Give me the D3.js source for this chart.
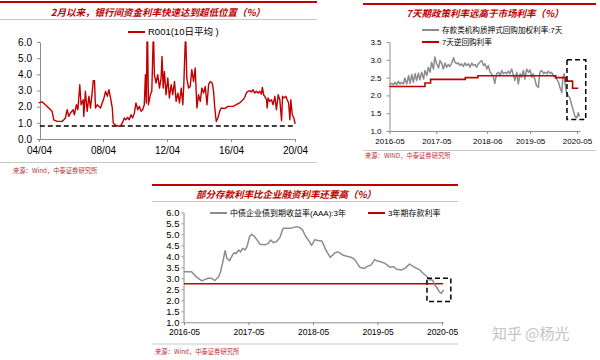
<!DOCTYPE html>
<html>
<head>
<meta charset="utf-8">
<script src="https://cdn.jsdelivr.net/npm/d3@7"></script>
<style>
  body { margin: 0; background: #fff; }
  svg text { font-family: "Liberation Sans", Arial, "Noto Sans CJK SC", sans-serif; }
</style>
</head>
<body>
<div id="chart"></div>
<script>
//Panel 1: R001 10-day average (decimal years)
var r001Years = [
  2004.23, 2004.44, 2004.65, 2004.86, 2005.07, 2005.17, 2005.38, 2005.69, 2005.80, 2005.90,
  2006.01, 2006.11, 2006.21, 2006.38, 2006.46, 2006.59, 2006.68, 2006.80, 2006.88, 2007.01,
  2007.05, 2007.15, 2007.26, 2007.37, 2007.47, 2007.58, 2007.64, 2007.72, 2007.78, 2007.89,
  2008.10, 2008.20, 2008.31, 2008.41, 2008.52, 2008.62, 2008.72, 2008.83, 2008.89, 2009.04,
  2009.25, 2009.35, 2009.46, 2009.58, 2009.68, 2009.79, 2009.89, 2010.00, 2010.10, 2010.21,
  2010.31, 2010.42, 2010.52, 2010.63, 2010.73, 2010.83, 2010.90, 2010.96, 2011.00, 2011.04,
  2011.09, 2011.21, 2011.30, 2011.38, 2011.42, 2011.46, 2011.57, 2011.67, 2011.78, 2011.88,
  2011.94, 2012.01, 2012.09, 2012.19, 2012.30, 2012.40, 2012.51, 2012.61, 2012.72, 2012.82,
  2012.93, 2013.03, 2013.14, 2013.24, 2013.30, 2013.39, 2013.43, 2013.49, 2013.60, 2013.70,
  2013.80, 2013.91, 2014.01, 2014.12, 2014.22, 2014.33, 2014.43, 2014.54, 2014.64, 2014.75,
  2014.85, 2014.95, 2015.08, 2015.16, 2015.22, 2015.29, 2015.33, 2015.43, 2015.54, 2015.64,
  2015.85, 2016.06, 2016.37, 2016.58, 2016.79, 2017.00, 2017.11, 2017.21, 2017.31, 2017.42,
  2017.52, 2017.63, 2017.73, 2017.84, 2017.94, 2018.05, 2018.15, 2018.21, 2018.30, 2018.36,
  2018.47, 2018.51, 2018.57, 2018.67, 2018.78, 2018.88, 2018.99, 2019.09, 2019.20, 2019.30,
  2019.41, 2019.47, 2019.55, 2019.68, 2019.76, 2019.85, 2019.93, 2019.99, 2020.08, 2020.18, 2020.26];
var r001Values = [
  2.23, 2.30, 2.12, 1.92, 1.71, 1.19, 1.09, 1.09, 1.19, 1.30,
  1.81, 1.40, 1.60, 1.81, 1.50, 2.12, 1.81, 3.36, 2.12, 2.43,
  1.40, 2.95, 1.71, 2.64, 1.92, 2.95, 3.61, 3.61, 1.92, 2.12,
  1.92, 2.23, 2.54, 2.95, 2.64, 3.05, 2.54, 1.92, 0.99, 0.85,
  0.79, 0.83, 0.99, 1.30, 1.19, 1.34, 1.19, 1.50, 1.30, 1.60,
  2.23, 1.81, 2.02, 1.71, 1.81, 2.12, 3.98, 2.23, 6.00, 6.00,
  2.12, 2.74, 2.95, 6.00, 6.00, 3.98, 3.46, 3.98, 3.15, 3.77,
  5.11, 3.15, 4.18, 2.74, 3.77, 2.54, 3.36, 2.74, 3.56, 2.33,
  2.84, 2.23, 3.15, 2.12, 3.36, 6.00, 6.00, 3.77, 3.15, 3.25,
  4.29, 3.56, 4.39, 1.92, 2.74, 2.33, 3.15, 2.84, 3.25, 2.12,
  3.36, 3.56, 3.46, 2.95, 2.12, 1.40, 1.09, 1.30, 1.71, 1.92,
  1.88, 2.02, 2.02, 2.12, 2.23, 2.43, 2.58, 2.84, 2.95, 2.99,
  2.91, 3.05, 2.84, 2.95, 2.84, 2.95, 2.78, 3.19, 2.70, 2.64,
  2.43, 1.92, 2.54, 2.33, 2.43, 2.12, 2.64, 1.81, 2.74, 2.43,
  1.13, 2.64, 2.54, 2.64, 2.43, 2.23, 1.19, 2.43, 1.50, 1.30, 0.93];
var r001TickYears = [2004.25, 2008.25, 2012.25, 2016.25, 2020.25];
var r001TickLabels = ["04/04", "08/04", "12/04", "16/04", "20/04"];
var r001YTicks = [0, 1, 2, 3, 4, 5, 6];
var r001Floor = 0.8;
var r001FloorSpan = [2004.3, 2020.25];

//Panel 2: 7-day repo rates
var repoYears = [
  2016.33, 2016.38, 2016.42, 2016.45, 2016.49, 2016.52, 2016.56, 2016.59, 2016.63, 2016.66,
  2016.70, 2016.74, 2016.77, 2016.81, 2016.84, 2016.88, 2016.91, 2016.95, 2016.98, 2017.02,
  2017.06, 2017.09, 2017.13, 2017.16, 2017.20, 2017.23, 2017.27, 2017.30, 2017.34, 2017.38,
  2017.41, 2017.45, 2017.48, 2017.52, 2017.55, 2017.59, 2017.62, 2017.66, 2017.70, 2017.73,
  2017.77, 2017.80, 2017.84, 2017.87, 2017.91, 2017.94, 2017.98, 2018.02, 2018.05, 2018.09,
  2018.12, 2018.16, 2018.19, 2018.23, 2018.26, 2018.30, 2018.34, 2018.37, 2018.41, 2018.44,
  2018.48, 2018.51, 2018.55, 2018.58, 2018.62, 2018.66, 2018.69, 2018.73, 2018.76, 2018.80,
  2018.83, 2018.87, 2018.90, 2018.94, 2018.98, 2019.01, 2019.05, 2019.08, 2019.12, 2019.15,
  2019.19, 2019.22, 2019.26, 2019.30, 2019.33, 2019.37, 2019.40, 2019.44, 2019.47, 2019.51,
  2019.54, 2019.58, 2019.62, 2019.65, 2019.69, 2019.72, 2019.76, 2019.79, 2019.83, 2019.86,
  2019.90, 2019.94, 2019.97, 2020.01, 2020.03, 2020.06, 2020.08, 2020.11, 2020.15, 2020.18,
  2020.22, 2020.26, 2020.29, 2020.33, 2020.36, 2020.39];
var repoValues = [
  2.30, 2.34, 2.30, 2.37, 2.30, 2.40, 2.32, 2.37, 2.32, 2.49,
  2.32, 2.56, 2.34, 2.59, 2.37, 2.61, 2.42, 2.62, 2.44, 2.65,
  2.46, 2.70, 2.56, 2.79, 2.65, 2.93, 2.74, 3.08, 2.89, 2.77,
  2.98, 2.89, 2.74, 2.91, 2.79, 2.87, 2.81, 2.91, 3.06, 2.93,
  2.89, 2.91, 2.84, 2.89, 2.81, 2.91, 2.84, 2.89, 2.79, 2.91,
  2.84, 2.87, 2.79, 2.89, 2.93, 2.98, 2.84, 2.89, 2.74, 2.84,
  2.65, 2.61, 2.51, 2.34, 2.61, 2.65, 2.56, 2.70, 2.61, 2.65,
  2.61, 2.68, 2.61, 2.74, 2.56, 2.42, 2.65, 2.32, 2.61, 2.51,
  2.70, 2.46, 2.74, 2.65, 2.72, 2.51, 2.61, 2.42, 2.27, 2.22,
  2.65, 2.70, 2.61, 2.65, 2.61, 2.68, 2.62, 2.65, 2.56, 2.51,
  2.46, 2.37, 2.22, 2.08, 2.46, 2.61, 2.32, 2.08, 1.98, 1.93,
  1.74, 1.55, 1.41, 1.37, 1.51, 1.40];
var policyYears = [2016.33, 2017.09, 2017.21, 2017.95, 2018.22, 2019.88, 2020.09, 2020.24, 2020.36];
var policyValues = [2.25, 2.35, 2.45, 2.50, 2.55, 2.50, 2.40, 2.20, 2.20];
var repoTickYears = [2016.333, 2017.333, 2018.417, 2019.333, 2020.333];
var repoTickLabels = ["2016-05", "2017-05", "2018-06", "2019-05", "2020-05"];
var repoYTicks = [1.0, 1.5, 2.0, 2.5, 3.0, 3.5];
var repoBox = [2020.12, 2020.52, 1.32, 3.0];

//Panel 3: AAA 3y corporate bond yield vs 3y deposit rate
var aaaYears = [
  2016.33, 2016.45, 2016.53, 2016.61, 2016.66, 2016.71, 2016.76, 2016.81, 2016.87, 2016.90,
  2016.93, 2016.97, 2017.00, 2017.04, 2017.07, 2017.11, 2017.14, 2017.18, 2017.21, 2017.24,
  2017.28, 2017.31, 2017.35, 2017.38, 2017.42, 2017.46, 2017.51, 2017.59, 2017.64, 2017.68,
  2017.72, 2017.77, 2017.82, 2017.87, 2017.98, 2018.08, 2018.13, 2018.17, 2018.22, 2018.27,
  2018.31, 2018.36, 2018.41, 2018.47, 2018.53, 2018.60, 2018.67, 2018.72, 2018.80, 2018.86,
  2018.93, 2018.98, 2019.06, 2019.13, 2019.18, 2019.23, 2019.29, 2019.32, 2019.38, 2019.45,
  2019.53, 2019.58, 2019.63, 2019.71, 2019.76, 2019.83, 2019.89, 2019.94, 2019.99, 2020.04,
  2020.10, 2020.14, 2020.17, 2020.20, 2020.22, 2020.26, 2020.29, 2020.32, 2020.36];
var aaaValues = [
  3.30, 3.30, 3.05, 2.88, 2.95, 3.00, 3.00, 2.90, 3.07, 3.30,
  3.68, 4.25, 3.90, 3.80, 3.98, 4.16, 4.13, 4.29, 4.20, 4.36,
  4.29, 4.44, 4.89, 5.00, 4.92, 4.77, 4.55, 4.52, 4.59, 4.74,
  4.62, 4.67, 4.86, 5.27, 5.27, 5.35, 5.30, 5.20, 4.90, 4.70,
  4.50, 4.75, 4.72, 4.70, 4.30, 3.95, 4.15, 4.20, 4.05, 4.00,
  3.95, 3.85, 3.50, 3.45, 3.55, 3.60, 3.85, 3.80, 3.75, 3.68,
  3.50, 3.53, 3.41, 3.38, 3.45, 3.65, 3.53, 3.45, 3.38, 3.23,
  3.08, 2.92, 2.95, 2.85, 2.70, 2.55, 2.39, 2.32, 2.47];
var depositRate3Y = 2.75;
var aaaTickYears = [2016.333, 2017.333, 2018.333, 2019.333, 2020.333];
var aaaTickLabels = ["2016-05", "2017-05", "2018-05", "2019-05", "2020-05"];
var aaaYTicks = [1.0, 1.5, 2.0, 2.5, 3.0, 3.5, 4.0, 4.5, 5.0, 5.5, 6.0];
var aaaBox = [2020.10, 2020.47, 1.94, 3.0];

var RED = "#c00000", GRAY = "#8c8c8c", RULE = "#c8c8c8";
var NUM_FONT = "'Liberation Sans', Arial, sans-serif";
var CJK_FONT = "'Noto Sans CJK SC', sans-serif";

var svg = d3.select("#chart")
  .append("svg")
    .attr("width", 600)
    .attr("height", 360);

//Helpers
function hline(x1, x2, y, color, w) {
  svg.append("line")
    .attr("x1", x1).attr("x2", x2)
    .attr("y1", y).attr("y2", y)
    .attr("stroke", color)
    .attr("stroke-width", w);
}

function title(txt, cx, y) {
  svg.append("text")
    .attr("x", cx).attr("y", y)
    .attr("text-anchor", "middle")
    .style("font-family", CJK_FONT)
    .style("font-size", "9.5px")
    .style("font-style", "italic")
    .style("font-weight", "bold")
    .attr("fill", RED)
    .text(txt);
}

function source(txt, x, y) {
  svg.append("text")
    .attr("x", x).attr("y", y)
    .style("font-family", CJK_FONT)
    .style("font-size", "6.3px")
    .attr("fill", "#b83030")
    .text(txt);
}

function styleAxis(g, size) {
  g.attr("font-family", NUM_FONT).attr("font-size", size);
  g.select(".domain").attr("stroke", GRAY);
  g.selectAll(".tick line").attr("stroke", GRAY);
  g.selectAll(".tick text").attr("fill", "#000");
}

function legendItem(x, y, color, txt, size) {
  svg.append("line")
    .attr("x1", x).attr("x2", x + 17)
    .attr("y1", y).attr("y2", y)
    .attr("stroke", color).attr("stroke-width", 2);
  svg.append("text")
    .attr("x", x + 20).attr("y", y + size * 0.36)
    .style("font-size", size + "px")
    .attr("fill", "#000")
    .text(txt);
}

function dashedBox(x, y, b) {
  svg.append("rect")
    .attr("x", x(b[0])).attr("y", y(b[3]))
    .attr("width", x(b[1]) - x(b[0]))
    .attr("height", y(b[2]) - y(b[3]))
    .attr("fill", "none")
    .attr("stroke", "#000")
    .attr("stroke-width", 1.5)
    .attr("stroke-dasharray", "5,3");
}

//---------------- Panel 1 ----------------
hline(0, 317, 2, RED, 2);
title("2月以来，银行间资金利率快速达到超低位置（%）", 158, 16);
hline(0, 317, 19.5, RULE, 1);

var x1 = d3.scaleLinear().domain([2004.25, 2020.25]).range([39, 295]);
var y1 = d3.scaleLinear().domain([0, 6]).range([139, 42]);

svg.append("g")
  .attr("transform", "translate(40,0)")
  .call(d3.axisLeft(y1).tickValues(r001YTicks).tickFormat(d3.format(".1f"))
    .tickSize(3).tickSizeOuter(0).tickPadding(5))
  .call(styleAxis, 10);

svg.append("g")
  .attr("transform", "translate(0,139)")
  .call(d3.axisBottom(x1).tickValues(r001TickYears)
    .tickFormat(function(d, i) { return r001TickLabels[i]; })
    .tickSize(3).tickSizeOuter(0).tickPadding(5))
  .call(styleAxis, 10);

svg.append("line")
  .attr("x1", x1(r001FloorSpan[0])).attr("x2", x1(r001FloorSpan[1]))
  .attr("y1", y1(r001Floor)).attr("y2", y1(r001Floor))
  .attr("stroke", "#000")
  .attr("stroke-width", 1.5)
  .attr("stroke-dasharray", "5,3");

svg.append("path")
  .datum(d3.zip(r001Years, r001Values))
  .attr("fill", "none")
  .attr("stroke", RED)
  .attr("stroke-width", 1.4)
  .attr("stroke-linejoin", "round")
  .attr("d", d3.line()
    .x(function(d) { return x1(d[0]); })
    .y(function(d) { return y1(d[1]); }));

legendItem(128, 32, RED, "R001(10日平均 )", 9.5);

hline(0, 317, 162.5, RULE, 1);
source("来源：Wind，中泰证券研究所", 13, 173);

//---------------- Panel 2 ----------------
hline(363, 596, 4, RED, 2);
title("7天期政策利率远高于市场利率（%）", 485, 17);

var x2 = d3.scaleLinear().domain([2016.333, 2020.40]).range([389.5, 580.1]);
var y2 = d3.scaleLinear().domain([1, 3.5]).range([131, 42]);

svg.append("g")
  .attr("transform", "translate(389.5,0)")
  .call(d3.axisLeft(y2).tickValues(repoYTicks).tickFormat(d3.format(".1f"))
    .tickSize(3).tickSizeOuter(0).tickPadding(5))
  .call(styleAxis, 8);

svg.append("g")
  .attr("transform", "translate(0,131)")
  .call(d3.axisBottom(x2).tickValues(repoTickYears)
    .tickFormat(function(d, i) { return repoTickLabels[i]; })
    .tickSize(3).tickSizeOuter(0).tickPadding(4))
  .call(styleAxis, 8);

svg.append("path")
  .datum(d3.zip(repoYears, repoValues))
  .attr("fill", "none")
  .attr("stroke", GRAY)
  .attr("stroke-width", 1.5)
  .attr("stroke-linejoin", "round")
  .attr("d", d3.line()
    .x(function(d) { return x2(d[0]); })
    .y(function(d) { return y2(d[1]); }));

svg.append("path")
  .datum(d3.zip(policyYears, policyValues))
  .attr("fill", "none")
  .attr("stroke", RED)
  .attr("stroke-width", 1.6)
  .attr("d", d3.line().curve(d3.curveStepAfter)
    .x(function(d) { return x2(d[0]); })
    .y(function(d) { return y2(d[1]); }));

dashedBox(x2, y2, repoBox);

legendItem(422, 30, GRAY, "存款类机构质押式回购加权利率:7天", 7.6);
legendItem(422, 42, RED, "7天逆回购利率", 7.6);

hline(363, 596, 150.5, RULE, 1);
source("来源：WIND，中泰证券研究所", 365, 158);

//---------------- Panel 3 ----------------
hline(152, 458, 185, RED, 2);
title("部分存款利率比企业融资利率还要高（%）", 286, 197.5);
hline(152, 458, 201.5, RULE, 1);

var x3 = d3.scaleLinear().domain([2016.333, 2020.35]).range([184, 443.1]);
var y3 = d3.scaleLinear().domain([1, 6]).range([322.3, 212.3]);

svg.append("g")
  .attr("transform", "translate(183.5,0)")
  .call(d3.axisLeft(y3).tickValues(aaaYTicks).tickFormat(d3.format(".1f"))
    .tickSize(2).tickSizeOuter(0).tickPadding(2))
  .call(styleAxis, 9.5);

svg.append("g")
  .attr("transform", "translate(0,322.3)")
  .call(d3.axisBottom(x3).tickValues(aaaTickYears)
    .tickFormat(function(d, i) { return aaaTickLabels[i]; })
    .tickSize(3).tickSizeOuter(0).tickPadding(4))
  .call(styleAxis, 8.5);

svg.append("line")
  .attr("x1", x3.range()[0]).attr("x2", x3.range()[1])
  .attr("y1", y3(depositRate3Y)).attr("y2", y3(depositRate3Y))
  .attr("stroke", RED)
  .attr("stroke-width", 1.6);

svg.append("path")
  .datum(d3.zip(aaaYears, aaaValues))
  .attr("fill", "none")
  .attr("stroke", GRAY)
  .attr("stroke-width", 1.5)
  .attr("stroke-linejoin", "round")
  .attr("d", d3.line()
    .x(function(d) { return x3(d[0]); })
    .y(function(d) { return y3(d[1]); }));

dashedBox(x3, y3, aaaBox);

legendItem(210, 213, GRAY, "中债企业债到期收益率(AAA):3年", 8);
legendItem(368, 213, RED, "3年期存款利率", 8);

hline(152, 458, 344, RULE, 1);
source("来源：Wind，中泰证券研究所", 155, 354);

//Watermark
svg.append("text")
  .attr("x", 492).attr("y", 339)
  .style("font-family", CJK_FONT)
  .style("font-size", "15px")
  .attr("fill", "#c4c4c4")
  .text("知乎 @杨光");
</script>
</body>
</html>
